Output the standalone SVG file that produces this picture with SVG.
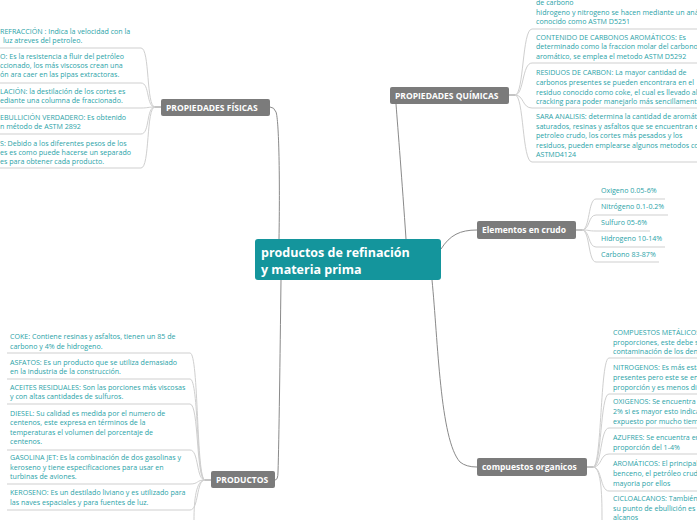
<svg xmlns="http://www.w3.org/2000/svg" width="697" height="520" viewBox="0 0 697 520">
<style>
.b{fill:none;stroke:#cfcfcf;stroke-width:1}
.m{fill:none;stroke:#8a8a8a;stroke-width:1}
.t{font-family:"Open Sans","DejaVu Sans",sans-serif;font-size:7.1px;fill:#2ba3a8}
.n{fill:#7b7b7b}
.nt{font-family:"Open Sans","DejaVu Sans",sans-serif;font-size:8.5px;font-weight:bold;fill:#fff}
.ct{font-family:"Open Sans","DejaVu Sans",sans-serif;font-size:12.5px;font-weight:bold;fill:#fff}
</style>
<rect width="697" height="520" fill="#fff"/>
<g id="connectors">
<path class="m" d="M279,239 C280,180 279,120 276,112 Q274,107 270,107"/>
<path class="m" d="M281,280 C280,360 279,440 278,472 Q278,480 275,480"/>
<path class="m" d="M406,239 C402,180 398,130 396,104"/>
<path class="m" d="M441,249 C450,235 460,230 477,230"/>
<path class="m" d="M432,280 C438,340 440,440 460,462 Q466,467 477,467"/>
<path class="m" d="M161,107 H155"/>
<path class="m" d="M509,95 H515"/>
<path class="m" d="M576,230 H582"/>
<path class="m" d="M211,480 H205"/>
<path class="m" d="M587,467 H593"/>
<path class="b" d="M155,107 C146,107 150,48 141,48 H0"/>
<path class="b" d="M155,107 C146,107 150,83 141,83 H0"/>
<path class="b" d="M155,107 C148,107 148,108 141,108 H0"/>
<path class="b" d="M155,107 C146,107 150,134 141,134 H0"/>
<path class="b" d="M155,107 C146,107 150,168 141,168 H0"/>
<path class="b" d="M515,95 C524,95 522,29 532,29 H697"/>
<path class="b" d="M515,95 C524,95 522,63 532,63 H697"/>
<path class="b" d="M515,95 C524,95 522,108 532,108 H697"/>
<path class="b" d="M515,95 C524,95 522,162 532,162 H697"/>
<path class="b" d="M582,230 C590,230 588,199 596,199 H665"/>
<path class="b" d="M582,230 C590,230 588,215 596,215 H668"/>
<path class="b" d="M582,230 C590,230 588,231 596,231 H650"/>
<path class="b" d="M582,230 C590,230 588,247 596,247 H665"/>
<path class="b" d="M582,230 C590,230 588,262 596,262 H659"/>
<path class="b" d="M205,480 C196,480 199,353 190,353 H7"/>
<path class="b" d="M205,480 C196,480 199,379 190,379 H7"/>
<path class="b" d="M205,480 C196,480 199,404 190,404 H7"/>
<path class="b" d="M205,480 C196,480 199,450 190,450 H7"/>
<path class="b" d="M205,480 C196,480 199,484 190,484 H7"/>
<path class="b" d="M205,480 C196,480 199,510 190,510 H7"/>
<path class="b" d="M205,480 C196,480 194,500 194,520"/>
<path class="b" d="M593,467 C602,467 600,358 609,358 H697"/>
<path class="b" d="M593,467 C602,467 600,394 609,394 H697"/>
<path class="b" d="M593,467 C602,467 600,428 609,428 H697"/>
<path class="b" d="M593,467 C602,467 600,454 609,454 H697"/>
<path class="b" d="M593,467 C602,467 600,491 609,491 H697"/>
<path class="b" d="M593,467 C602,467 602,500 602,520"/>
</g>
<g id="center"><rect x="255" y="239" width="186" height="41" rx="3" fill="#14959c"/>
<text class="ct" x="261" y="257">productos de refinación</text><text class="ct" x="261" y="274">y materia prima</text></g>
<g id="fisicas"><rect class="n" x="161" y="99" width="109" height="17" rx="2"/><text class="nt" x="166" y="111">PROPIEDADES FÍSICAS</text></g>
<g id="quimicas"><rect class="n" x="390" y="87" width="119" height="17" rx="2"/><text class="nt" x="395" y="99">PROPIEDADES QUÍMICAS</text></g>
<g id="elementos"><rect class="n" x="477" y="221" width="99" height="18" rx="2"/><text class="nt" x="482" y="233">Elementos en crudo</text></g>
<g id="productos"><rect class="n" x="211" y="471" width="64" height="17" rx="2"/><text class="nt" x="216" y="483">PRODUCTOS</text></g>
<g id="compuestos"><rect class="n" x="477" y="458" width="110" height="18" rx="2"/><text class="nt" x="482" y="470">compuestos organicos</text></g>
<g id="fisicas-items">
<text class="t" x="0" y="34">REFRACCIÓN : Indica la velocidad con la</text><text class="t" x="3" y="43">luz atreves del petroleo.</text>
<text class="t" x="0" y="59">O: Es la resistencia a fluir del petróleo</text><text class="t" x="0" y="68">ccionado, los más viscosos crean una</text><text class="t" x="0" y="77">ón ara caer en las pipas extractoras.</text>
<text class="t" x="0" y="94">LACIÓN: la destilación de los cortes es</text><text class="t" x="0" y="103">ediante una columna de fraccionado.</text>
<text class="t" x="0" y="120">EBULLICIÓN VERDADERO: Es obtenido</text><text class="t" x="0" y="129">n método de ASTM 2892</text>
<text class="t" x="0" y="146">S: Debido a los diferentes pesos de los</text><text class="t" x="0" y="155">es es como puede hacerse un separado</text><text class="t" x="0" y="164">es para obtener cada producto.</text>
</g>
<g id="quimicas-items">
<text class="t" x="536" y="5">de carbono</text><text class="t" x="536" y="15">hidrogeno y nitrogeno se hacen mediante un análisis</text><text class="t" x="536" y="24">conocido como ASTM D5251</text>
<text class="t" x="536" y="40">CONTENIDO DE CARBONOS AROMÁTICOS: Es</text><text class="t" x="536" y="49">determinado como la fraccion molar del carbono</text><text class="t" x="536" y="59">aromático, se emplea el metodo ASTM D5292</text>
<text class="t" x="536" y="75">RESIDUOS DE CARBON: La mayor cantidad de</text><text class="t" x="536" y="85">carbonos presentes se pueden encontrara en el</text><text class="t" x="536" y="95">residuo conocido como coke, el cual es llevado al</text><text class="t" x="536" y="104">cracking para poder manejarlo más sencillamente</text>
<text class="t" x="536" y="119">SARA ANALISIS: determina la cantidad de aromáticos,</text><text class="t" x="536" y="129">saturados, resinas y asfaltos que se encuentran en el</text><text class="t" x="536" y="138">petroleo crudo, los cortes más pesados y los</text><text class="t" x="536" y="148">residuos, pueden emplearse algunos metodos como</text><text class="t" x="536" y="157">ASTMD4124</text>
</g>
<g id="elementos-items">
<text class="t" x="601" y="193">Oxigeno 0.05-6%</text><text class="t" x="601" y="209">Nitrógeno 0.1-0.2%</text><text class="t" x="601" y="225">Sulfuro 05-6%</text><text class="t" x="601" y="241">Hidrogeno 10-14%</text><text class="t" x="601" y="257">Carbono 83-87%</text>
</g>
<g id="productos-items">
<text class="t" x="10" y="339">COKE: Contiene resinas y asfaltos, tienen un 85 de</text><text class="t" x="10" y="349">carbono y 4% de hidrogeno.</text>
<text class="t" x="10" y="365">ASFATOS: Es un producto que se utiliza demasiado</text><text class="t" x="10" y="374">en la industria de la construcción.</text>
<text class="t" x="10" y="390">ACEITES RESIDUALES: Son las porciones más viscosas</text><text class="t" x="10" y="399">y con altas cantidades de sulfuros.</text>
<text class="t" x="10" y="416">DIESEL: Su calidad es medida por el numero de</text><text class="t" x="10" y="425">centenos, este expresa en términos de la</text><text class="t" x="10" y="435">temperaturas el volumen del porcentaje de</text><text class="t" x="10" y="444">centenos.</text>
<text class="t" x="10" y="460">GASOLINA JET: Es la combinación de dos gasolinas y</text><text class="t" x="10" y="470">keroseno y tiene especificaciones para usar en</text><text class="t" x="10" y="479">turbinas de aviones.</text>
<text class="t" x="10" y="495">KEROSENO: Es un destilado liviano y es utilizado para</text><text class="t" x="10" y="505">las naves espaciales y para fuentes de luz.</text>
</g>
<g id="compuestos-items">
<text class="t" x="613" y="335">COMPUESTOS METÁLICOS</text><text class="t" x="613" y="345">proporciones, este debe s</text><text class="t" x="613" y="354">contaminación de los den</text>
<text class="t" x="613" y="370">NITROGENOS: Es más esta</text><text class="t" x="613" y="380">presentes pero este se en</text><text class="t" x="613" y="390">proporción y es menos di</text>
<text class="t" x="613" y="404">OXIGENOS: Se encuentra</text><text class="t" x="613" y="414">2% si es mayor esto indica</text><text class="t" x="613" y="424">expuesto por mucho tiem</text>
<text class="t" x="613" y="440">AZUFRES: Se encuentra en</text><text class="t" x="613" y="450">proporción del 1-4%</text>
<text class="t" x="613" y="466">AROMÁTICOS: El principal</text><text class="t" x="613" y="476">benceno, el petróleo crud</text><text class="t" x="613" y="486">mayoria por ellos</text>
<text class="t" x="613" y="501">CICLOALCANOS: También</text><text class="t" x="613" y="511">su punto de ebullición es</text><text class="t" x="613" y="520">alcanos</text>
</g>
</svg>
